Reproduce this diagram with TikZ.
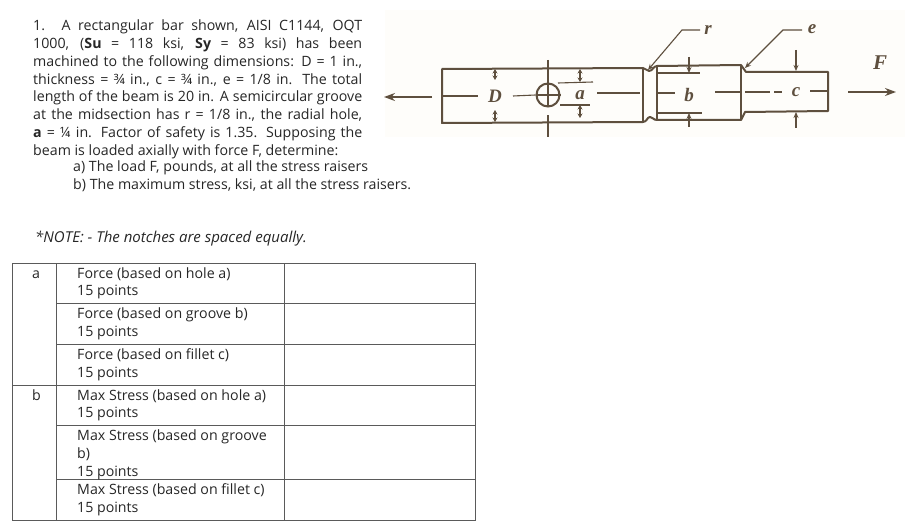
\documentclass[tikz,border=0pt]{standalone}
\usepackage{fontspec}
\setmainfont{Open Sans}
\newfontfamily\figfont{Liberation Serif}
\usetikzlibrary{arrows.meta}
\definecolor{scanink}{HTML}{5E4F3E}
\definecolor{scanpaper}{HTML}{FEFDFA}
\definecolor{rulegray}{HTML}{5A5A5A}
\tikzset{
	body/.style = {anchor=north west, inner sep=0pt, align=left, text=black!85,
		font=\fontsize{14.2}{17.75}\selectfont},
	figlabel/.style = {text=scanink, inner sep=0pt, font=\figfont\bfseries\itshape\fontsize{19}{19}\selectfont},
	outline/.style = {draw=scanink, line width=2pt, line join=round},
	centre/.style = {draw=scanink, line width=1.1pt},
	dimarrow/.style = {draw=scanink, line width=1.1pt, {Stealth[length=4.5pt,width=5pt]}-{Stealth[length=4.5pt,width=5pt]}},
	tiparrow/.style = {draw=scanink, line width=1.1pt, -{Stealth[length=6pt,width=5pt]}},
	force/.style = {draw=scanink, line width=2pt, -{Stealth[length=11pt,width=8pt]}},
	tablerule/.style = {draw=rulegray, line width=0.8pt}
}
\begin{document}
\begin{tikzpicture}[x=1pt, y=-1pt]
	\useasboundingbox (0,0) rectangle (921,532);
	\fill[scanpaper] (385,10) rectangle (905,137);

	% problem text
	\node[body, text width=329pt, align=justify] (problem) at (33,18.3) {\strut 1. A rectangular bar shown, AISI C1144, OQT\linebreak
		1000, (\textbf{Su} = 118 ksi, \textbf{Sy} = 83 ksi) has been\linebreak
		machined to the following dimensions: D = 1 in.,\linebreak
		thickness = ¾ in., c = ¾ in., e = 1/8 in. The total\linebreak
		length of the beam is 20 in. A semicircular groove\linebreak
		at the midsection has r = 1/8 in., the radial hole,\linebreak
		\textbf{a} = ¼ in. Factor of safety is 1.35. Supposing the\linebreak
		beam is loaded axially with force F, determine:};
	\node[body] (parta) at (73,159.3) {\strut a) The load F, pounds, at all the stress raisers\\
		b) The maximum stress, ksi, at all the stress raisers.};
	\node[body, font=\fontsize{15}{17.75}\selectfont\itshape] (note) at (35,230.3) {\strut *NOTE: - The notches are spaced equally.};

	% bar
	\draw[outline] (442,69) -- (442,123) -- (643,122)
		.. controls (647,122) and (647,117) .. (650,117)
		.. controls (653,117) and (653,120) .. (657,120)
		-- (741,120) -- (745,112) -- (828,111) -- (828,72) -- (746,72) -- (741,65)
		-- (657,66)
		.. controls (653,66) and (653,71) .. (649,71)
		.. controls (646,71) and (646,68) .. (643,68) -- cycle;
	\draw[outline] (643,68) -- (643,122);
	\draw[outline] (657,66) -- (657,120);
	\draw[outline] (741,65) -- (741,120);

	% hole
	\node[draw=scanink, line width=2pt, circle, minimum size=23pt, inner sep=0pt] (hole) at (548,95) {};
	\draw[centre] (hole.west) -- (hole.east);
	\draw[centre] (548,60) -- (hole.south);
	\coordinate (holeend) at (548,137);
	\draw[centre] (hole.south) ++(0,8) -- (holeend);

	% labels
	\node[figlabel] (D) at (495,96) {D};
	\node[figlabel] (a) at (580,95) {a};
	\node[figlabel] (b) at (689,95) {b};
	\node[figlabel] (c) at (796,92) {c};
	\node[figlabel] (r) at (708,30) {r};
	\node[figlabel] (e) at (812,29) {e};
	\node[figlabel, font=\figfont\bfseries\itshape\fontsize{21}{21}\selectfont] (F) at (880,63) {F};

	% centre line
	\coordinate (barleft) at (443,96);
	\coordinate (barright) at (828,91);
	\draw[centre] (barleft) -- (478,96);
	\draw[centre] (513,96) -- (hole.west);
	\draw[centre] (597,93) -- (640,93);
	\draw[centre] (658,93) -- (675,93);
	\draw[centre] (715,92) -- (742,92);
	\draw[centre] (745,92) -- (770,92) (774,92) -- (782,92);
	\draw[centre] (810,91) -- (barright);

	% extension lines
	\draw[centre] (558,83) -- (593,82);
	\draw[centre] (560,105) -- (590,105);
	\draw[centre] (657,73) -- (700,73);
	\draw[centre] (657,113) -- (702,113);

	% dimension arrows
	\foreach \x/\ya/\yb/\yc/\yd in {495/69/80/110/122, 580/69/82/105/118} {
		\draw[dimarrow] (\x,\ya) -- (\x,\yb);
		\draw[dimarrow] (\x,\yc) -- (\x,\yd);
	}
	\foreach \x/\ya/\yb/\yc/\yd in {689/57/73/113/127, 796/50/71/112/128} {
		\draw[tiparrow] (\x,\ya) -- (\x,\yb);
		\draw[tiparrow] (\x,\yd) -- (\x,\yc);
	}

	% leaders
	\coordinate (rstart) at (700,30);
	\coordinate (estart) at (802,30);
	\coordinate (rtip) at (648,70);
	\coordinate (etip) at (745,68);
	\draw[tiparrow] (rstart) -- (682,30) -- (rtip);
	\draw[tiparrow] (estart) -- (783,30) -- (etip);

	% force arrows
	\coordinate (Fleft) at (384,97);
	\coordinate (Fright) at (896,92);
	\coordinate (Fleftstart) at (432,97);
	\coordinate (Frightstart) at (848,92);
	\draw[force] (Fleftstart) -- (Fleft);
	\draw[force] (Frightstart) -- (Fright);

	% table
	\draw[tablerule] (12,263) rectangle (475,520);
	\draw[tablerule] (56,263) -- (56,520);
	\draw[tablerule] (284,263) -- (284,520);
	\draw[tablerule] (12,385) -- (475,385);
	\foreach \y in {303,344,425,479}
		\draw[tablerule] (56,\y) -- (475,\y);
	\node[body] (rowa) at (32,265.6) {\strut a};
	\node[body] (rowb) at (32,387.6) {\strut b};
	\node[body] (cella) at (77,265.6) {\strut Force (based on hole a)\\15 points};
	\node[body] (cellb) at (77,305.9) {\strut Force (based on groove b)\\15 points};
	\node[body] (cellc) at (77,346.9) {\strut Force (based on fillet c)\\15 points};
	\node[body] (celld) at (77,387.6) {\strut Max Stress (based on hole a)\\15 points};
	\node[body] (celle) at (77,428.3) {\strut Max Stress (based on groove\\b)\\15 points};
	\node[body] (cellf) at (77,481.9) {\strut Max Stress (based on fillet c)\\15 points};
\end{tikzpicture}
\end{document}
